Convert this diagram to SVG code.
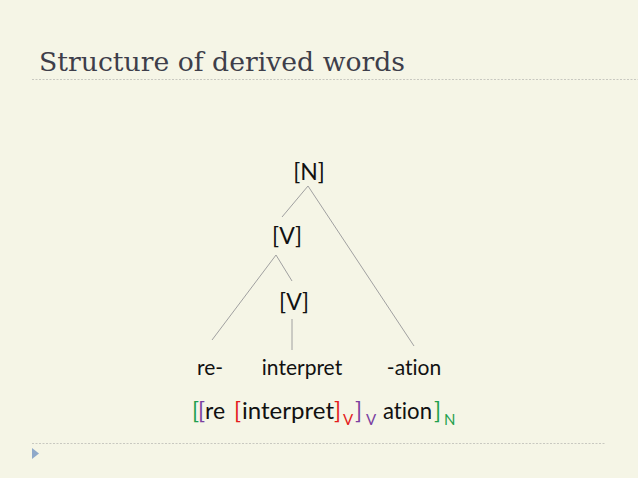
<svg xmlns="http://www.w3.org/2000/svg" width="638" height="478" viewBox="0 0 638 478">
<style>
.t{font-family:"Lato","Open Sans","DejaVu Sans",sans-serif;fill:#111;font-variant-ligatures:none;}
.n{font-size:23px;text-anchor:middle;}
.w{font-size:21px;text-anchor:middle;}
.b{font-size:23px;}
.s{font-size:15px;}
.g{fill:#1fa04e;} .p{fill:#7a3fa0;} .r{fill:#e41c1c;}
.e{stroke:#a0a0a0;stroke-width:1;fill:none;}
.d{stroke:#c8c8c0;stroke-width:1;stroke-dasharray:2,1.5;}
</style>
<rect width="638" height="478" fill="#f5f5e6"/>
<text x="39" y="71" font-family="'DejaVu Serif','Liberation Serif',serif" font-size="26" fill="#3e3e4a" textLength="366" lengthAdjust="spacingAndGlyphs">Structure of derived words</text>
<line class="d" x1="32" y1="79.5" x2="638" y2="79.5"/>
<line class="d" x1="32" y1="443.5" x2="606" y2="443.5"/>
<polygon points="32,448 39,453.5 32,459" fill="#8fa9c9"/>
<g id="connectors">
<line class="e" x1="308" y1="186" x2="282" y2="217"/>
<line class="e" x1="308" y1="186" x2="414" y2="346"/>
<line class="e" x1="276" y1="255" x2="212" y2="340"/>
<line class="e" x1="276" y1="255" x2="292" y2="281"/>
<line class="e" x1="292" y1="319" x2="292" y2="350"/>
</g>
<g id="N"><text class="t n" x="309" y="180">[N]</text></g>
<g id="V1"><text class="t n" x="287" y="244">[V]</text></g>
<g id="V2"><text class="t n" x="294" y="310">[V]</text></g>
<g id="re"><text class="t w" x="210" y="375">re-</text></g>
<g id="interpret"><text class="t w" x="302" y="375">interpret</text></g>
<g id="ation"><text class="t w" x="414" y="375">-ation</text></g>
<g id="bracketing">
<text class="t b g" x="192" y="419">[</text>
<text class="t b p" x="198" y="419">[</text>
<text class="t b" x="205" y="419">re</text>
<text class="t b r" x="234" y="419">[</text>
<text class="t b" x="242" y="419" textLength="92" lengthAdjust="spacingAndGlyphs">interpret</text>
<text class="t b r" x="334" y="419">]</text>
<text class="t s r" x="343" y="425">V</text>
<text class="t b p" x="355" y="419">]</text>
<text class="t s p" x="366" y="425">V</text>
<text class="t b" x="383" y="419" textLength="49" lengthAdjust="spacingAndGlyphs">ation</text>
<text class="t b g" x="434" y="419">]</text>
<text class="t s g" x="444" y="425">N</text>
</g>
</svg>
